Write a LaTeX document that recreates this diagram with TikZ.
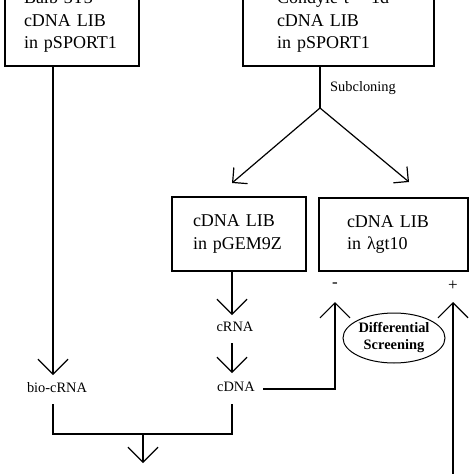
\documentclass[tikz,border=0pt]{standalone}
\usepackage{fontspec}
\setmainfont{Liberation Serif}
\usetikzlibrary{arrows.meta,shapes.geometric}
\begin{document}
\begin{tikzpicture}[x=1pt,y=-1pt,
  lw/.style={line width=1.2pt},
  box/.style={draw,line width=1.2pt,inner ysep=0pt,font=\fontsize{18}{22.5}\selectfont,align=left},
  lbl/.style={font=\fontsize{14.4}{17}\selectfont,inner sep=0pt},
  sign/.style={font=\fontsize{17}{17}\selectfont,inner sep=0pt},
  varr/.style={line width=1.2pt,-{Straight Barb[length=15pt,width=30pt]}},
  darr/.style={line width=1.2pt,-{Straight Barb[length=10.6pt,width=21.2pt]}},
]
\useasboundingbox (0,0) rectangle (474,474);
\clip (0,0) rectangle (474,474);
\fill[white] (0,0) rectangle (474,474);

% boxes
\node[box,minimum width=134pt,minimum height=88pt,text width=96pt,inner xsep=19pt] (lbox) at (72,22) {Balb 3T3\\cDNA LIB\\in pSPORT1};
\node[box,minimum width=191pt,minimum height=88pt,text width=123pt,inner xsep=34pt] (rbox) at (338.5,22) {Condyle t = 1d\\cDNA LIB\\in pSPORT1};
\node[box,minimum width=134pt,minimum height=74pt,text width=92pt,inner xsep=21pt] (pgem) at (239,234) {cDNA LIB\\in pGEM9Z};
\node[box,minimum width=149pt,minimum height=73pt,text width=93pt,inner xsep=28pt] (lgt) at (393.5,234.5) {cDNA LIB\\in λgt10};

% labels
\node[lbl,anchor=west] (sub) at (330,88) {Subcloning};
\node[lbl] (crna) at (235,327) {cRNA};
\node[lbl] (cdna) at (236,387) {cDNA};
\node[lbl] (bio) at (57,388) {bio-cRNA};
\node[sign] (minus) at (335,285) {-};
\node[sign] (plus) at (453,286) {+};
\node[draw,ellipse,line width=1pt,minimum width=102pt,minimum height=50pt,inner sep=0pt,align=center,
      font=\fontsize{14.4}{17}\selectfont\bfseries] (diff) at (394,338) {Differential\\Screening};

% coordinates
\coordinate (split) at (320,108);
\coordinate (tipL) at (232,183);
\coordinate (tipR) at (409,182);
\coordinate (bioTip) at (53,375);
\coordinate (crnaTip) at (232,315);
\coordinate (crnaLow) at (232,343);
\coordinate (cdnaTip) at (232,373);
\coordinate (bioLow) at (53,404);
\coordinate (cdnaLow) at (232,404);
\coordinate (joinL) at (53,434);
\coordinate (joinR) at (232,434);
\coordinate (joinM) at (143,434);
\coordinate (finalTip) at (143,463);
\coordinate (cdnaR) at (263,389);
\coordinate (corner) at (335,389);
\coordinate (minusTip) at (335,302);
\coordinate (plusBot) at (453,480);
\coordinate (plusTip) at (453,302);

% connectors
\draw[varr] (lbox.south -| bioTip) -- (bioTip);
\draw[lw] (rbox.south -| split) -- (split);
\draw[darr] (split) -- (tipL);
\draw[darr] (split) -- (tipR);
\draw[varr] (pgem.south -| crnaTip) -- (crnaTip);
\draw[varr] (crnaLow) -- (cdnaTip);
\draw[lw] (bioLow) -- (joinL) -- (joinR) -- (cdnaLow);
\draw[varr] (joinM) -- (finalTip);
\draw[varr] (cdnaR) -- (corner) -- (minusTip);
\draw[varr] (plusBot) -- (plusTip);
\end{tikzpicture}
\end{document}
